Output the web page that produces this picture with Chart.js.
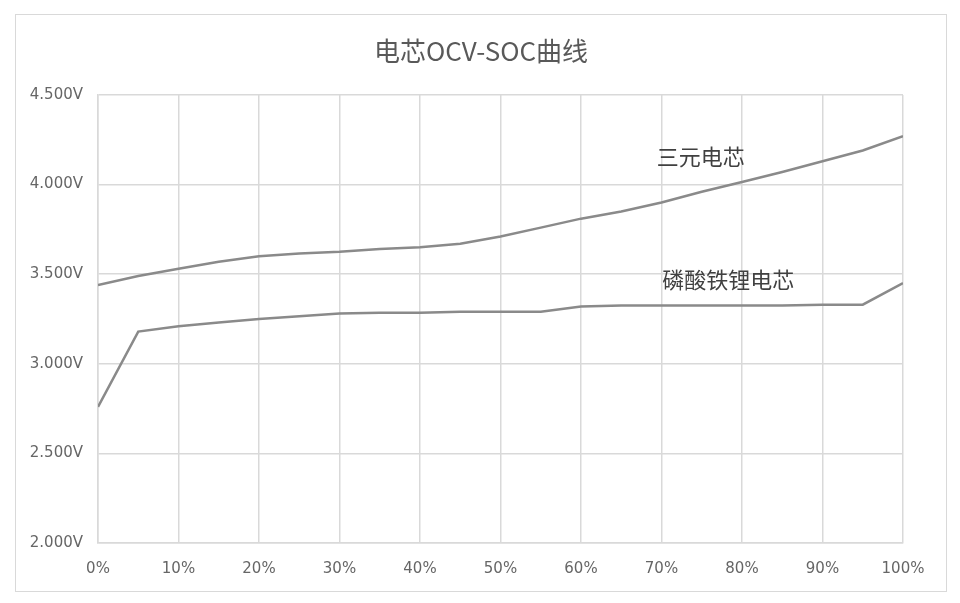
<!DOCTYPE html>
<html>
<head>
<meta charset="utf-8">
<script src="https://cdn.jsdelivr.net/npm/chart.js@4/dist/chart.umd.min.js"></script>
<style>
  body { margin: 0; background: #fff; }
  .frame {
    position: absolute; left: 15px; top: 14px;
    width: 930px; height: 576px;
    border: 1px solid #d9d9d9;
  }
  canvas { display: block; }
</style>
</head>
<body>
<div class="frame"><canvas id="ocv" width="930" height="576"></canvas></div>
<script>
// SOC in percent, sampled every 5%
const soc = [0, 5, 10, 15, 20, 25, 30, 35, 40, 45, 50, 55, 60, 65, 70, 75, 80, 85, 90, 95, 100];

// 三元电芯 (NCM) open-circuit voltage
const ncmVolt = [3.44, 3.49, 3.53, 3.57, 3.60, 3.615, 3.625, 3.64, 3.65, 3.67, 3.71, 3.76, 3.81, 3.85, 3.90, 3.96, 4.015, 4.07, 4.13, 4.19, 4.27];

// 磷酸铁锂电芯 (LFP) open-circuit voltage
const lfpVolt = [2.76, 3.18, 3.21, 3.23, 3.25, 3.265, 3.28, 3.285, 3.285, 3.29, 3.29, 3.29, 3.32, 3.325, 3.325, 3.325, 3.325, 3.325, 3.33, 3.33, 3.45];

const seriesNames = ['三元电芯', '磷酸铁锂电芯'];
// where each series name sits, in data units (SOC %, V)
const labelAt = [[69.4, 4.155], [70.1, 3.468]];

const chartTitle = '电芯OCV-SOC曲线';
const tickFont = { family: '"DejaVu Sans", sans-serif', size: 15 };

const pts = (ys) => soc.map((x, i) => ({ x, y: ys[i] }));

// title centred on the whole frame, plus the in-plot series names
const textBits = {
  id: 'textBits',
  afterDatasetsDraw(chart) {
    const { ctx, scales, width } = chart;
    ctx.save();
    ctx.textBaseline = 'middle';

    ctx.font = '26px "Noto Sans CJK SC", sans-serif';
    ctx.fillStyle = '#595959';
    ctx.textAlign = 'center';
    ctx.fillText(chartTitle, width / 2, 36);

    ctx.font = '22px "Noto Sans CJK SC", sans-serif';
    ctx.fillStyle = '#404040';
    ctx.textAlign = 'left';
    seriesNames.forEach((name, i) => {
      const px = scales.x.getPixelForValue(labelAt[i][0]);
      const py = scales.y.getPixelForValue(labelAt[i][1]);
      ctx.fillText(name, px, py);
    });
    ctx.restore();
  }
};

new Chart(document.getElementById('ocv'), {
  type: 'line',
  data: {
    datasets: [
      { label: seriesNames[0], data: pts(ncmVolt) },
      { label: seriesNames[1], data: pts(lfpVolt) }
    ]
  },
  options: {
    responsive: false,
    animation: false,
    elements: {
      line: { borderColor: '#8a8a8a', borderWidth: 2.5, tension: 0 },
      point: { radius: 0 }
    },
    layout: { padding: { left: 0, right: 43, top: 80, bottom: 0 } },
    plugins: {
      legend: { display: false },
      tooltip: { enabled: false },
      title: { display: false }
    },
    scales: {
      x: {
        type: 'linear',
        min: 0, max: 100,
        grid: { color: '#d9d9d9', lineWidth: 1.5, drawTicks: false },
        border: { color: '#d9d9d9', width: 1.5 },
        ticks: {
          stepSize: 10,
          padding: 17,
          color: '#666666',
          font: tickFont,
          callback: (v) => v + '%'
        },
        afterFit: (s) => { s.height = 48; }
      },
      y: {
        min: 2, max: 4.5,
        grid: { color: '#d9d9d9', lineWidth: 1.5, drawTicks: false },
        border: { color: '#d9d9d9', width: 1.5 },
        ticks: {
          stepSize: 0.5,
          padding: 15,
          color: '#666666',
          font: tickFont,
          callback: (v) => v.toFixed(3) + 'V'
        },
        afterFit: (s) => { s.width = 82; }
      }
    }
  },
  plugins: [textBits]
});
</script>
</body>
</html>
